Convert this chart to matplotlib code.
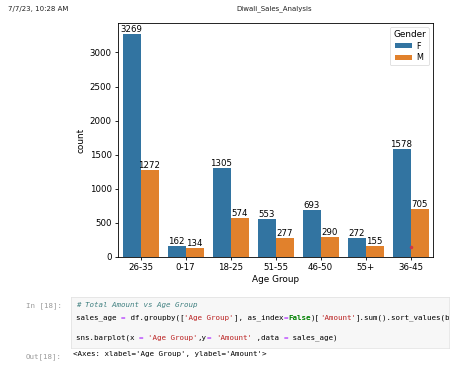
import matplotlib
matplotlib.use("Agg")
import matplotlib.pyplot as plt
import matplotlib.transforms as mtransforms
import numpy as np

age_groups = ['26-35', '0-17', '18-25', '51-55', '46-50', '55+', '36-45']
female = [3269, 162, 1305, 553, 693, 272, 1578]
male = [1272, 134, 574, 277, 290, 155, 705]
genders = ['F', 'M']

header_left = '7/7/23, 10:28 AM'
header_title = 'Diwali_Sales_Analysis'

# code cell, list of (text, kind) tokens per line
code_lines = [
    [("# Total Amount vs Age Group", 'comment')],
    [("sales_age ", 'name'), ("=", 'op'), (" df.groupby([", 'name'), ("'Age Group'", 'str'),
     ("], as_index", 'name'), ("=", 'op'), ("False", 'kw'), (")[", 'name'), ("'Amount'", 'str'),
     ("].sum().sort_values(by", 'name')],
    [("sns.barplot(x ", 'name'), ("=", 'op'), (" ", 'name'), ("'Age Group'", 'str'),
     (",y", 'name'), ("=", 'op'), (" ", 'name'), ("'Amount'", 'str'), (" ,data ", 'name'),
     ("=", 'op'), (" sales_age)", 'name')],
]
out_text = "<Axes: xlabel='Age Group', ylabel='Amount'>"

W, H = 474, 372
fig = plt.figure(figsize=(W / 100, H / 100), dpi=100)

# header
fig.text(8 / W, 1 - 9 / H, header_left, fontsize=5, va='center', ha='left', color='#222222')
fig.text(274 / W, 1 - 9 / H, header_title, fontsize=5, va='center', ha='center', color='#222222')

# main chart
ax = fig.add_axes([118 / W, 1 - 257 / H, (433 - 118) / W, (257 - 23) / H])
x = np.arange(len(age_groups))
bw = 0.4
colors = ['#3274a1', '#e1812c']
b1 = ax.bar(x - bw / 2, female, width=bw, color=colors[0], label=genders[0])
b2 = ax.bar(x + bw / 2, male, width=bw, color=colors[1], label=genders[1])
ax.bar_label(b1, fontsize=6.2, padding=0)
ax.bar_label(b2, fontsize=6.2, padding=0)

# small red speck seen on the 36-45 bar
ax.plot([6.0], [146], 'o', color='#d0304a', markersize=1.6, alpha=0.8)

ax.set_xlim(-0.5, len(age_groups) - 0.5)
ax.set_ylim(0, max(female) * 1.05)
ax.set_xticks(x)
ax.set_xticklabels(age_groups)
ax.set_yticks([0, 500, 1000, 1500, 2000, 2500, 3000])
ax.tick_params(labelsize=6.2, length=2.5, width=0.6, pad=2)
ax.set_xlabel('Age Group', fontsize=6.4, labelpad=2)
ax.set_ylabel('count', fontsize=6.4, labelpad=3)
for s in ax.spines.values():
    s.set_linewidth(0.6)
leg = ax.legend(title='Gender', loc='upper right', fontsize=5.8, title_fontsize=6.4,
                handlelength=2.0, handleheight=0.6, borderpad=0.4, labelspacing=0.3,
                handletextpad=0.6, framealpha=0.8)
leg.get_frame().set_linewidth(0.5)

# code cell
ax_code = fig.add_axes([71 / W, 1 - 348 / H, (449 - 71) / W, (348 - 297) / H])
ax_code.set_facecolor('#f7f7f7')
ax_code.set_xticks([])
ax_code.set_yticks([])
for s in ax_code.spines.values():
    s.set_color('#e0e0e0')
    s.set_linewidth(0.5)

mono = 'DejaVu Sans Mono'
fs = 5.4
charw = 0.602 * fs
styles = {
    'comment': dict(color='#408080', style='italic'),
    'name': dict(color='#000000'),
    'op': dict(color='#aa22ff'),
    'str': dict(color='#ba2121'),
    'kw': dict(color='#008000', weight='bold'),
}
line_y = [0.84, 0.59, 0.2]
for toks, ly in zip(code_lines, line_y):
    n = 0
    for txt, kind in toks:
        tr = mtransforms.offset_copy(ax_code.transAxes, fig=fig, x=n * charw, y=0, units='points')
        ax_code.text(0.013, ly, txt, transform=tr, fontsize=fs, family=mono, va='center',
                     ha='left', clip_on=True, **styles[kind])
        n += len(txt)

fig.text(62 / W, 1 - 306 / H, 'In [18]:', fontsize=fs, family=mono, ha='right', va='center',
         color='#9a9a9a')
fig.text(62 / W, 1 - 357 / H, 'Out[18]:', fontsize=fs, family=mono, ha='right', va='center',
         color='#9a9a9a')
fig.text(73 / W, 1 - 354 / H, out_text, fontsize=fs, family=mono, ha='left', va='center',
         color='#000000')

fig.savefig('out.png', dpi=100)
